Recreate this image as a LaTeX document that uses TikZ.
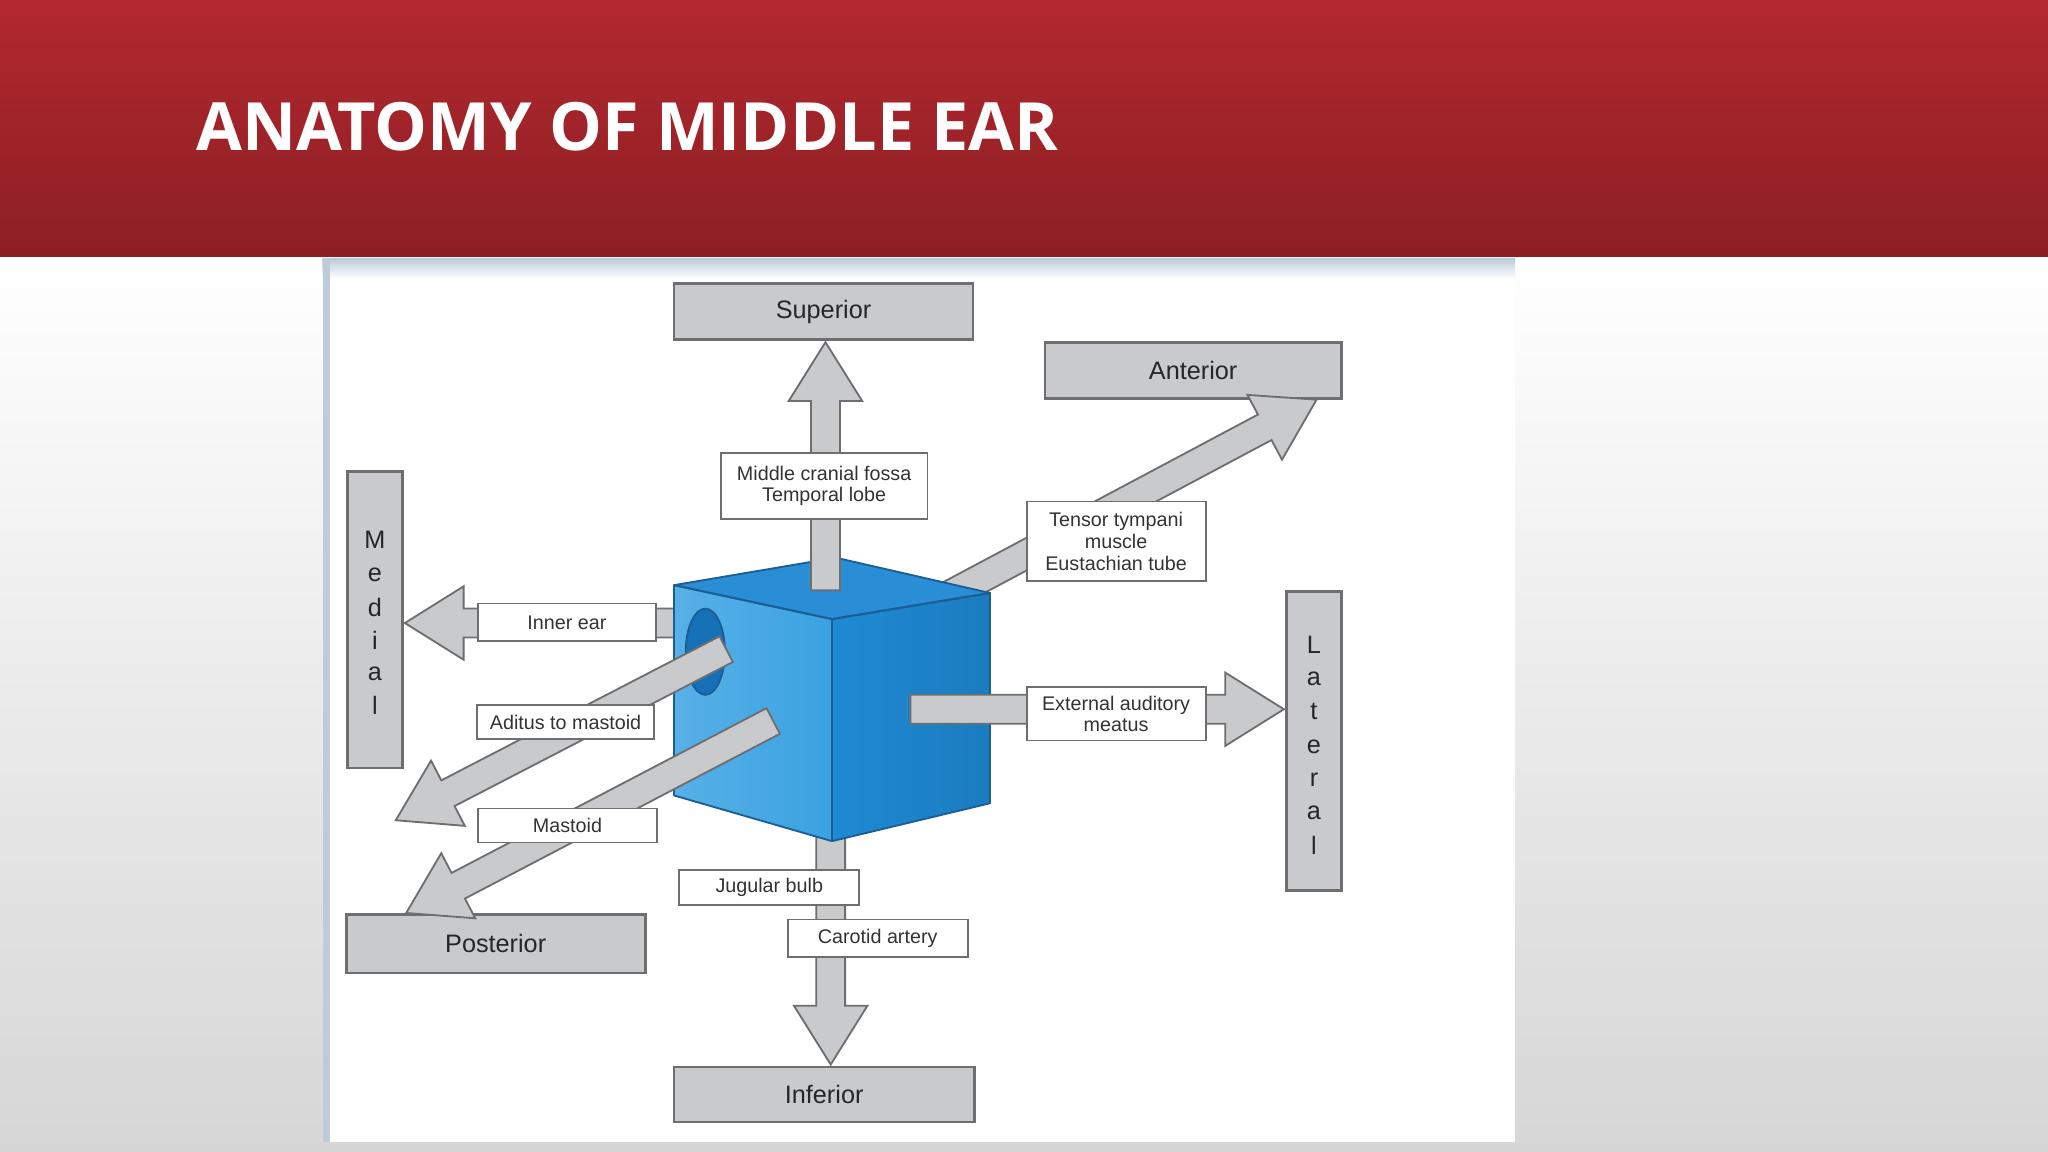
\documentclass[tikz,border=0pt]{standalone}
\usepackage{fontspec}
\setmainfont{Liberation Sans}
\newfontfamily\titlefont{Open Sans}
\usetikzlibrary{calc}
\definecolor{hdtop}{HTML}{B3282F}
\definecolor{hdbot}{HTML}{8C1F23}
\definecolor{boxgrey}{HTML}{C9CACC}
\definecolor{edgegrey}{HTML}{6E6E70}
\definecolor{ctop}{HTML}{2A8ED6}
\definecolor{cleft}{HTML}{3AA2E2}
\definecolor{cright}{HTML}{1E8AD4}
\definecolor{cedge}{HTML}{1A5E94}
\definecolor{chole}{HTML}{1670B6}
\definecolor{panelblue}{HTML}{BCCCD8}
\tikzset{
  dirbox/.style={draw=edgegrey,line width=1.2pt,fill=boxgrey,font=\fontsize{11}{12}\selectfont,text=black!85},
  lbl/.style={draw=edgegrey,line width=0.8pt,fill=white,font=\fontsize{8.6}{9.4}\selectfont,text=black!80,align=center,inner sep=0pt},
  arr/.style={draw=edgegrey,line width=0.8pt,fill=boxgrey,line join=miter},
  face/.style={draw=cedge,line width=0.8pt,line join=round}
}
\newcommand\blockarrow[2]{%
  \draw[arr] ($(#1)!6.3pt!90:(#2)$)
    -- ($($(#2)!25.6pt!(#1)$)!6.3pt!90:(#2)$)
    -- ($($(#2)!25.6pt!(#1)$)!16pt!90:(#2)$)
    -- (#2)
    -- ($($(#2)!25.6pt!(#1)$)!16pt!-90:(#2)$)
    -- ($($(#2)!25.6pt!(#1)$)!6.3pt!-90:(#2)$)
    -- ($(#1)!6.3pt!-90:(#2)$) -- cycle;}
\begin{document}
\begin{tikzpicture}[x=0.02cm,y=-0.02cm]
\useasboundingbox (0,0) rectangle (1568,882);
\shade[top color=white,bottom color=black!16] (0,196) rectangle (1568,882);
\shade[top color=hdtop,bottom color=hdbot] (0,0) rectangle (1568,196);
\node[anchor=base west,text=white,font=\titlefont\bfseries\fontsize{29}{32}\selectfont,inner sep=0pt] (title) at (150,115) {ANATOMY OF MIDDLE EAR};
\fill[white] (247,198) rectangle (1160,874);
\shade[top color=panelblue,bottom color=white] (247,198) rectangle (1160,213);
\fill[panelblue] (247,198) rectangle (253,874);
\node[dirbox,minimum width=130.3pt,minimum height=24.5pt] (sup) at (630.5,238.5) {Superior};
\node[dirbox,minimum width=129.2pt,minimum height=24.5pt] (ant) at (913.5,283.5) {Anterior};
\node[dirbox,minimum width=130.3pt,minimum height=25.6pt] (post) at (379.5,722.5) {Posterior};
\node[dirbox,minimum width=130.9pt,minimum height=23.9pt] (inf) at (631,838) {Inferior};
\node[dirbox,minimum width=23.9pt,minimum height=129.2pt] (med) at (287,474.5) {};
\node[dirbox,minimum width=23.9pt,minimum height=130.3pt] (lat) at (1006,567.5) {};
\foreach \l/\y in {M/413,e/440,d/465,i/490,a/516,l/540}
  \node[font=\fontsize{11}{12}\selectfont,text=black!85] (m\y) at (287,\y) {\l};
\foreach \l/\y in {L/494,a/520,t/545,e/572,r/597,a/622,l/647}
  \node[font=\fontsize{11}{12}\selectfont,text=black!85] (l\y) at (1006,\y) {\l};
\coordinate (antS) at (700,470); \coordinate (antE) at (1008,306);
\coordinate (medS) at (520,477); \coordinate (medE) at (310,477);
\coordinate (infS) at (636,620); \coordinate (infE) at (636,815);
\coordinate (supS) at (632,452); \coordinate (supE) at (632,262);
\coordinate (adS) at (556,497); \coordinate (adE) at (303,628);
\coordinate (maS) at (592,552); \coordinate (maE) at (311,699);
\coordinate (laS) at (697,543); \coordinate (laE) at (983,543);
\blockarrow{antS}{antE}
\blockarrow{medS}{medE}
\blockarrow{infS}{infE}
\coordinate (c1) at (516,448); \coordinate (c2) at (640,427);
\coordinate (c3) at (758,454); \coordinate (c4) at (637,474);
\coordinate (c5) at (516,609); \coordinate (c6) at (637,644);
\coordinate (c7) at (758,615);
\fill[ctop] (c1) -- (c2) -- (c3) -- (c4) -- cycle;
\shade[face,left color=cleft!85!white,right color=cleft] (c1) -- (c4) -- (c6) -- (c5) -- cycle;
\shade[face,left color=cright,right color=cright!90!black] (c4) -- (c3) -- (c7) -- (c6) -- cycle;
\draw[face] (c1) -- (c2) -- (c3) -- (c4) -- cycle;
\draw[face,fill=chole] (540,499) ellipse [x radius=15,y radius=33];
\blockarrow{supS}{supE}
\blockarrow{adS}{adE}
\blockarrow{maS}{maE}
\blockarrow{laS}{laE}
\node[lbl,minimum width=90pt,minimum height=28.5pt] (mcf) at (631,372) {Middle cranial fossa\\Temporal lobe};
\node[lbl,minimum width=78pt,minimum height=34.7pt] (tt) at (854.5,414.5) {Tensor tympani\\muscle\\Eustachian tube};
\node[lbl,minimum width=77.4pt,minimum height=16.5pt] (ie) at (434,476.5) {Inner ear};
\node[lbl,minimum width=77.4pt,minimum height=14.8pt] (ad) at (433,553) {Aditus to mastoid};
\node[lbl,minimum width=78pt,minimum height=14.8pt] (ma) at (434.5,632) {Mastoid};
\node[lbl,minimum width=78pt,minimum height=23.3pt] (eam) at (854.5,546.5) {External auditory\\meatus};
\node[lbl,minimum width=78.5pt,minimum height=15.4pt] (jb) at (589,679.5) {Jugular bulb};
\node[lbl,minimum width=78.5pt,minimum height=16.5pt] (ca) at (672,718.5) {Carotid artery};
\end{tikzpicture}
\end{document}
